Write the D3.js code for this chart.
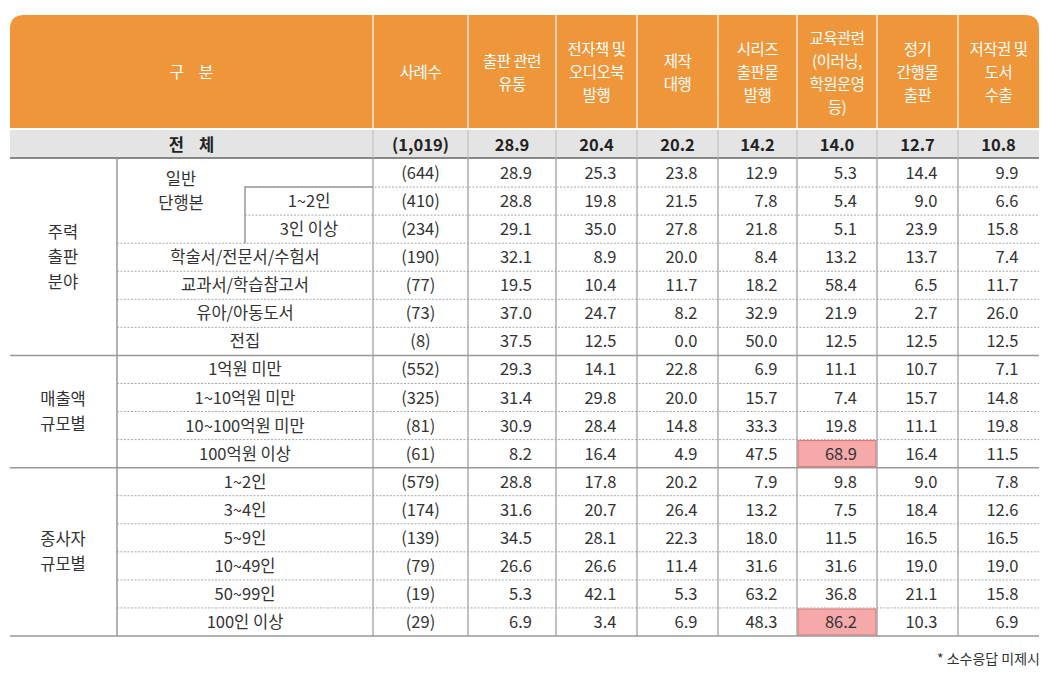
<!DOCTYPE html>
<html><head><meta charset="utf-8">
<script src="https://cdn.jsdelivr.net/npm/d3@7"></script>
<style>body{margin:0;background:#fff}text{font-family:"Noto Sans CJK KR","Noto Sans",sans-serif;white-space:pre}</style>
</head><body><svg id="c" width="1057" height="692"></svg>
<script>
var headers = [["사례수"],["출판 관련","유통"],["전자책 및","오디오북","발행"],["제작","대행"],["시리즈","출판물","발행"],["교육관련","(이러닝,","학원운영","등)"],["정기","간행물","출판"],["저작권 및","도서","수출"]];
var total = ["(1,019)","28.9","20.4","20.2","14.2","14.0","12.7","10.8"];
var groups = [{name:["주력","출판","분야"],start:0,end:7},{name:["매출액","규모별"],start:7,end:11},{name:["종사자","규모별"],start:11,end:17}];
var labels = ["","1~2인","3인 이상","학술서/전문서/수험서","교과서/학습참고서","유아/아동도서","전집","1억원 미만","1~10억원 미만","10~100억원 미만","100억원 이상","1~2인","3~4인","5~9인","10~49인","50~99인","100인 이상"];
var counts = ["(644)","(410)","(234)","(190)","(77)","(73)","(8)","(552)","(325)","(81)","(61)","(579)","(174)","(139)","(79)","(19)","(29)"];
var values = [
[28.9,25.3,23.8,12.9,5.3,14.4,9.9],
[28.8,19.8,21.5,7.8,5.4,9.0,6.6],
[29.1,35.0,27.8,21.8,5.1,23.9,15.8],
[32.1,8.9,20.0,8.4,13.2,13.7,7.4],
[19.5,10.4,11.7,18.2,58.4,6.5,11.7],
[37.0,24.7,8.2,32.9,21.9,2.7,26.0],
[37.5,12.5,0.0,50.0,12.5,12.5,12.5],
[29.3,14.1,22.8,6.9,11.1,10.7,7.1],
[31.4,29.8,20.0,15.7,7.4,15.7,14.8],
[30.9,28.4,14.8,33.3,19.8,11.1,19.8],
[8.2,16.4,4.9,47.5,68.9,16.4,11.5],
[28.8,17.8,20.2,7.9,9.8,9.0,7.8],
[31.6,20.7,26.4,13.2,7.5,18.4,12.6],
[34.5,28.1,22.3,18.0,11.5,16.5,16.5],
[26.6,26.6,11.4,31.6,31.6,19.0,19.0],
[5.3,42.1,5.3,63.2,36.8,21.1,15.8],
[6.9,3.4,6.9,48.3,86.2,10.3,6.9]];
var highlights = [[10,4],[16,4]];

var svg = d3.select("#c");
var colEdges = [373,468,556,637,718,797,877,958,1039];
var L = 10, R = 1039, hTop = 15, hBot = 128, tBot = 158, bBot = 636;
var y = d3.scaleLinear().domain([0, labels.length]).range([tBot+1, bBot]);
var rh = y(1) - y(0);
var orange = "#f0963a", gray = "#999", fs = 16.5;

// header
svg.append("path").attr("fill", orange)
  .attr("d", "M"+L+","+hBot+"V"+(hTop+14)+"Q"+L+","+hTop+" "+(L+14)+","+hTop+"H"+(R-14)+"Q"+R+","+hTop+" "+R+","+(hTop+14)+"V"+hBot+"Z");
svg.append("text").attr("x",(L+373)/2).attr("y",78).attr("text-anchor","middle").attr("fill","#fff").attr("font-size",16).text("구    분");
headers.forEach(function(h,i){
  var cx=(colEdges[i]+colEdges[i+1])/2, n=h.length, lh=23;
  h.forEach(function(t,j){
    svg.append("text").attr("x",cx).attr("y",72+(j-(n-1)/2)*lh+6).attr("text-anchor","middle").attr("fill","#fff").attr("font-size",15.5).attr("letter-spacing",-0.5).text(t);
  });
});
colEdges.slice(0,-1).forEach(function(x){
  svg.append("line").attr("x1",x).attr("x2",x).attr("y1",hTop).attr("y2",hBot).attr("stroke","#fff").attr("stroke-width",1.2);
});

// total row
svg.append("rect").attr("x",L).attr("y",hBot+2).attr("width",R-L).attr("height",tBot-hBot-2).attr("fill","#e4e4e4");
svg.append("line").attr("x1",L).attr("x2",R).attr("y1",tBot).attr("y2",tBot).attr("stroke","#888").attr("stroke-width",2);
svg.append("text").attr("x",(L+373)/2).attr("y",151).attr("text-anchor","middle").attr("font-size",fs).attr("font-weight","bold").attr("fill","#222").text("전    체");
total.forEach(function(t,i){
  var x = (colEdges[i]+colEdges[i+1])/2;
  svg.append("text").attr("x",x).attr("y",151).attr("text-anchor","middle").attr("font-size",fs).attr("font-weight","bold").attr("fill","#222").text(t);
});
colEdges.slice(0,-1).forEach(function(x){
  svg.append("line").attr("x1",x).attr("x2",x).attr("y1",hBot+2).attr("y2",tBot).attr("stroke","#bbb");
});

// highlights
highlights.forEach(function(h){
  var c=h[1]+1;
  svg.append("rect").attr("x",colEdges[c]+1).attr("y",y(h[0])+1).attr("width",colEdges[c+1]-colEdges[c]-2).attr("height",rh-2).attr("fill","#f5a9a9").attr("stroke","#e07070");
});

// row dotted lines
for (var r=1;r<labels.length;r++){
  var isGroup = groups.some(function(g){return g.start==r;});
  var x1 = isGroup ? L : (r<3 ? 245 : 117);
  svg.append("line").attr("x1",x1).attr("x2",R).attr("y1",y(r)).attr("y2",y(r))
    .attr("stroke", isGroup ? gray : "#aaa").attr("stroke-width", isGroup?1.5:1).attr("stroke-dasharray", isGroup?null:"2,1.5");
}
svg.append("line").attr("x1",L).attr("x2",R).attr("y1",bBot).attr("y2",bBot).attr("stroke",gray).attr("stroke-width",1.5);
svg.append("path").attr("d","M373,"+y(1)+"H245V"+y(3)).attr("fill","none").attr("stroke",gray).attr("stroke-width",1.5);

// verticals
colEdges.slice(0,-1).forEach(function(x){
  svg.append("line").attr("x1",x).attr("x2",x).attr("y1",tBot).attr("y2",bBot).attr("stroke",gray).attr("stroke-width",1.2);
});
svg.append("line").attr("x1",117).attr("x2",117).attr("y1",tBot).attr("y2",bBot).attr("stroke",gray).attr("stroke-width",1.5);

// group labels
groups.forEach(function(g){
  var cy=(y(g.start)+y(g.end))/2, n=g.name.length;
  g.name.forEach(function(t,j){
    svg.append("text").attr("x",63).attr("y",cy+(j-(n-1)/2)*25+6).attr("text-anchor","middle").attr("font-size",fs).attr("fill","#333").text(t);
  });
});
svg.append("text").attr("x",181).attr("y",y(0)+26).attr("text-anchor","middle").attr("font-size",fs).attr("fill","#333").text("일반");
svg.append("text").attr("x",181).attr("y",y(0)+50).attr("text-anchor","middle").attr("font-size",fs).attr("fill","#333").text("단행본");

labels.forEach(function(t,r){
  var cx = r<3 ? 309 : 245, ty = y(r)+rh/2+6;
  svg.append("text").attr("x",cx).attr("y",ty).attr("text-anchor","middle").attr("font-size",fs).attr("fill","#333").text(t);
  svg.append("text").attr("x",(colEdges[0]+colEdges[1])/2).attr("y",ty).attr("text-anchor","middle").attr("font-size",fs).attr("fill","#333").text(counts[r]);
  values[r].forEach(function(v,i){
    var c=i+1, cx=(colEdges[c]+colEdges[c+1])/2;
    svg.append("text").attr("x",cx+20).attr("y",ty).attr("text-anchor","end").attr("font-size",fs).attr("fill","#333").text(d3.format(".1f")(v));
  });
});

svg.append("text").attr("x",1040).attr("y",664).attr("text-anchor","end").attr("font-size",14).attr("fill","#333").text("* 소수응답 미제시");
</script></body></html>
